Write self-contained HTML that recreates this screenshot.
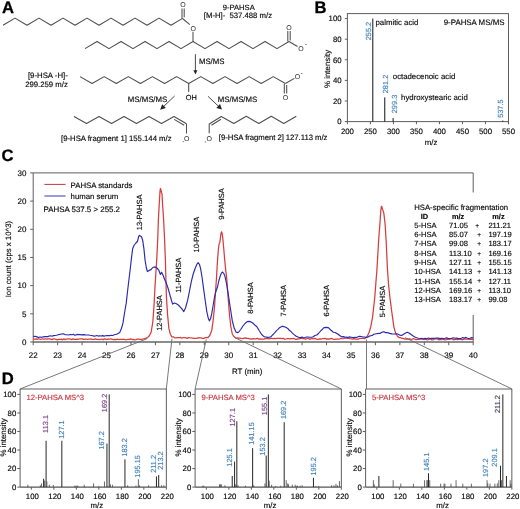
<!DOCTYPE html>
<html><head><meta charset="utf-8"><style>
html,body{margin:0;padding:0;background:#fff;}
svg{display:block;filter:blur(0.35px);}
text{font-family:'Liberation Sans', Arial, sans-serif;text-rendering:geometricPrecision;}
</style></head><body>
<svg width="520" height="509" viewBox="0 0 520 509">
<rect width="520" height="509" fill="#fff"/>
<text x="2.00" y="12.80" font-size="16.6" fill="#000" stroke="#000" stroke-width="0.3" font-weight="bold">A</text>
<polyline points="3.00,25.20 15.00,18.10 27.00,25.20 39.00,18.10 51.00,25.20 63.00,18.10 75.00,25.20 87.00,18.10 99.00,25.20 111.00,18.10 123.00,25.20 135.00,18.10 147.00,25.20 159.00,18.10 171.00,25.20 182.50,18.40" fill="none" stroke="#4d4d4d" stroke-width="1.05" stroke-linejoin="round" />
<line x1="182.00" y1="18.40" x2="182.00" y2="8.40" stroke="#4d4d4d" stroke-width="1.05"/>
<line x1="184.20" y1="17.20" x2="184.20" y2="8.40" stroke="#4d4d4d" stroke-width="1.05"/>
<text x="183.10" y="6.70" font-size="7.0" text-anchor="middle" fill="#333">O</text>
<line x1="182.50" y1="18.50" x2="189.80" y2="24.60" stroke="#4d4d4d" stroke-width="1.05"/>
<text x="193.20" y="30.80" font-size="7.0" text-anchor="middle" fill="#333">O</text>
<line x1="193.00" y1="31.80" x2="193.00" y2="41.50" stroke="#4d4d4d" stroke-width="1.05"/>
<polyline points="85.00,48.60 97.00,41.50 109.00,48.60 121.00,41.50 133.00,48.60 145.00,41.50 157.00,48.60 169.00,41.50 181.00,48.60 193.00,41.50 205.00,48.60 217.00,41.50 229.00,48.60 241.00,41.50 253.00,48.60 265.00,41.50 277.00,48.60 289.00,41.50" fill="none" stroke="#4d4d4d" stroke-width="1.05" stroke-linejoin="round" />
<line x1="287.80" y1="41.50" x2="287.80" y2="31.00" stroke="#4d4d4d" stroke-width="1.05"/>
<line x1="290.20" y1="40.50" x2="290.20" y2="31.00" stroke="#4d4d4d" stroke-width="1.05"/>
<text x="289.00" y="30.20" font-size="7.0" text-anchor="middle" fill="#333">O</text>
<line x1="289.00" y1="41.50" x2="297.50" y2="46.50" stroke="#4d4d4d" stroke-width="1.05"/>
<text x="301.00" y="51.20" font-size="7.0" text-anchor="middle" fill="#333">O</text>
<text x="306.00" y="46.00" font-size="5.5" text-anchor="middle" fill="#333" stroke="#333" stroke-width="0.15">-</text>
<line x1="195.40" y1="54.20" x2="195.40" y2="71.00" stroke="#333" stroke-width="0.9"/>
<polygon points="193.4,70.2 197.4,70.2 195.4,74.4" fill="#222"/>
<text x="198.90" y="64.20" font-size="7.8" stroke="#1a1a1a" stroke-width="0.15">MS/MS</text>
<text x="222.80" y="9.60" font-size="7.6" stroke="#1a1a1a" stroke-width="0.15">9-PAHSA</text>
<text x="203.80" y="18.40" font-size="7.75" textLength="68.2" lengthAdjust="spacing" xml:space="preserve" stroke="#1a1a1a" stroke-width="0.15">[M-H]-  537.488 m/z</text>
<polyline points="80.00,76.60 92.08,83.50 104.16,76.60 116.24,83.50 128.32,76.60 140.40,83.50 152.48,76.60 164.56,83.50 176.64,76.60 188.72,83.50 200.80,76.60 212.88,83.50 224.96,76.60 237.04,83.50 249.12,76.60 261.20,83.50 273.28,76.60 285.36,83.50" fill="none" stroke="#4d4d4d" stroke-width="1.05" stroke-linejoin="round" />
<line x1="284.30" y1="84.00" x2="284.30" y2="93.60" stroke="#4d4d4d" stroke-width="1.05"/>
<line x1="286.70" y1="85.00" x2="286.70" y2="93.60" stroke="#4d4d4d" stroke-width="1.05"/>
<text x="285.60" y="99.90" font-size="7.0" text-anchor="middle" fill="#333">O</text>
<line x1="285.40" y1="83.50" x2="294.40" y2="78.40" stroke="#4d4d4d" stroke-width="1.05"/>
<text x="297.50" y="79.20" font-size="7.0" text-anchor="middle" fill="#333">O</text>
<text x="301.70" y="75.00" font-size="5.5" text-anchor="middle" fill="#333" stroke="#333" stroke-width="0.15">-</text>
<line x1="188.70" y1="83.50" x2="188.70" y2="92.00" stroke="#4d4d4d" stroke-width="1.05"/>
<text x="185.80" y="99.50" font-size="7.4" stroke="#1a1a1a" stroke-width="0.15">OH</text>
<text x="67.80" y="77.50" font-size="7.8" text-anchor="end" stroke="#1a1a1a" stroke-width="0.15">[9-HSA -H]-</text>
<text x="67.80" y="86.90" font-size="7.75" text-anchor="end" stroke="#1a1a1a" stroke-width="0.15">299.259 m/z</text>
<line x1="174.60" y1="96.00" x2="163.67" y2="106.48" stroke="#333" stroke-width="0.9"/>
<polygon points="160.20,109.80 162.16,104.18 165.89,108.08" fill="#222"/>
<line x1="208.00" y1="96.30" x2="218.52" y2="106.29" stroke="#333" stroke-width="0.9"/>
<polygon points="222.00,109.60 216.30,107.91 220.02,103.99" fill="#222"/>
<text x="127.80" y="101.90" font-size="7.8" stroke="#1a1a1a" stroke-width="0.15">MS/MS/MS</text>
<text x="217.80" y="102.10" font-size="7.8" stroke="#1a1a1a" stroke-width="0.15">MS/MS/MS</text>
<polyline points="74.00,116.50 86.50,123.50 99.00,116.50 111.50,123.50 124.00,116.50 136.50,123.50 149.00,116.50 161.50,123.50 174.00,116.50 186.50,123.80" fill="none" stroke="#4d4d4d" stroke-width="1.05" stroke-linejoin="round" />
<line x1="174.20" y1="119.40" x2="184.20" y2="125.20" stroke="#4d4d4d" stroke-width="1.05"/>
<line x1="186.50" y1="123.80" x2="186.50" y2="133.50" stroke="#4d4d4d" stroke-width="1.05"/>
<text x="186.70" y="141.10" font-size="7.0" text-anchor="middle" fill="#333">O</text>
<circle cx="183.2" cy="141.6" r="0.55" fill="#555"/>
<text x="61.00" y="141.10" font-size="7.75" textLength="110.6" lengthAdjust="spacing" stroke="#1a1a1a" stroke-width="0.15">[9-HSA fragment 1] 155.144 m/z</text>
<polyline points="209.20,133.20 209.20,124.00 221.30,116.50 233.80,123.50 246.30,116.30 258.80,123.50 271.30,116.30 283.80,123.50 296.30,116.30" fill="none" stroke="#4d4d4d" stroke-width="1.05" stroke-linejoin="round" />
<line x1="211.40" y1="125.20" x2="221.00" y2="119.20" stroke="#4d4d4d" stroke-width="1.05"/>
<text x="209.30" y="140.90" font-size="7.0" text-anchor="middle" fill="#333">O</text>
<circle cx="205.3" cy="141.9" r="0.55" fill="#555"/>
<text x="218.80" y="140.30" font-size="7.75" textLength="108.6" lengthAdjust="spacing" stroke="#1a1a1a" stroke-width="0.15">[9-HSA fragment 2] 127.113 m/z</text>
<text x="314.40" y="12.80" font-size="16.6" fill="#000" stroke="#000" stroke-width="0.3" font-weight="bold">B</text>
<rect x="347.4" y="13.6" width="161.10" height="108.00" fill="none" stroke="#5e5e5e" stroke-width="1"/>
<line x1="344.80" y1="121.60" x2="347.40" y2="121.60" stroke="#5e5e5e" stroke-width="1"/>
<text x="341.60" y="124.30" font-size="7.8" text-anchor="end" stroke="#1a1a1a" stroke-width="0.15">0</text>
<line x1="344.80" y1="101.00" x2="347.40" y2="101.00" stroke="#5e5e5e" stroke-width="1"/>
<text x="341.60" y="103.70" font-size="7.8" text-anchor="end" stroke="#1a1a1a" stroke-width="0.15">20</text>
<line x1="344.80" y1="80.40" x2="347.40" y2="80.40" stroke="#5e5e5e" stroke-width="1"/>
<text x="341.60" y="83.10" font-size="7.8" text-anchor="end" stroke="#1a1a1a" stroke-width="0.15">40</text>
<line x1="344.80" y1="59.80" x2="347.40" y2="59.80" stroke="#5e5e5e" stroke-width="1"/>
<text x="341.60" y="62.50" font-size="7.8" text-anchor="end" stroke="#1a1a1a" stroke-width="0.15">60</text>
<line x1="344.80" y1="39.20" x2="347.40" y2="39.20" stroke="#5e5e5e" stroke-width="1"/>
<text x="341.60" y="41.90" font-size="7.8" text-anchor="end" stroke="#1a1a1a" stroke-width="0.15">80</text>
<line x1="344.80" y1="18.60" x2="347.40" y2="18.60" stroke="#5e5e5e" stroke-width="1"/>
<text x="341.60" y="21.30" font-size="7.8" text-anchor="end" stroke="#1a1a1a" stroke-width="0.15">100</text>
<line x1="347.40" y1="121.60" x2="347.40" y2="124.20" stroke="#5e5e5e" stroke-width="1"/>
<text x="347.40" y="133.90" font-size="7.8" text-anchor="middle" stroke="#1a1a1a" stroke-width="0.15">200</text>
<line x1="370.41" y1="121.60" x2="370.41" y2="124.20" stroke="#5e5e5e" stroke-width="1"/>
<text x="370.41" y="133.90" font-size="7.8" text-anchor="middle" stroke="#1a1a1a" stroke-width="0.15">250</text>
<line x1="393.43" y1="121.60" x2="393.43" y2="124.20" stroke="#5e5e5e" stroke-width="1"/>
<text x="393.43" y="133.90" font-size="7.8" text-anchor="middle" stroke="#1a1a1a" stroke-width="0.15">300</text>
<line x1="416.44" y1="121.60" x2="416.44" y2="124.20" stroke="#5e5e5e" stroke-width="1"/>
<text x="416.44" y="133.90" font-size="7.8" text-anchor="middle" stroke="#1a1a1a" stroke-width="0.15">350</text>
<line x1="439.46" y1="121.60" x2="439.46" y2="124.20" stroke="#5e5e5e" stroke-width="1"/>
<text x="439.46" y="133.90" font-size="7.8" text-anchor="middle" stroke="#1a1a1a" stroke-width="0.15">400</text>
<line x1="462.47" y1="121.60" x2="462.47" y2="124.20" stroke="#5e5e5e" stroke-width="1"/>
<text x="462.47" y="133.90" font-size="7.8" text-anchor="middle" stroke="#1a1a1a" stroke-width="0.15">450</text>
<line x1="485.49" y1="121.60" x2="485.49" y2="124.20" stroke="#5e5e5e" stroke-width="1"/>
<text x="485.49" y="133.90" font-size="7.8" text-anchor="middle" stroke="#1a1a1a" stroke-width="0.15">500</text>
<line x1="508.50" y1="121.60" x2="508.50" y2="124.20" stroke="#5e5e5e" stroke-width="1"/>
<text x="508.50" y="133.90" font-size="7.8" text-anchor="middle" stroke="#1a1a1a" stroke-width="0.15">550</text>
<text x="431.00" y="144.70" font-size="7.8" text-anchor="middle" stroke="#1a1a1a" stroke-width="0.15">m/z</text>
<text x="330.20" y="68.90" font-size="7.9" text-anchor="middle" stroke="#1a1a1a" stroke-width="0.15" transform="rotate(-90 330.20 68.90)">% intensity</text>
<line x1="372.81" y1="121.60" x2="372.81" y2="18.60" stroke="#111" stroke-width="1"/>
<line x1="384.78" y1="121.60" x2="384.78" y2="97.39" stroke="#111" stroke-width="1"/>
<line x1="393.11" y1="121.60" x2="393.11" y2="118.10" stroke="#111" stroke-width="1"/>
<line x1="502.75" y1="121.60" x2="502.75" y2="120.57" stroke="#111" stroke-width="1"/>
<text x="370.90" y="31.00" font-size="7.4" text-anchor="middle" fill="#4585bd" stroke="#4585bd" stroke-width="0.15" transform="rotate(-90 370.90 31.00)">255.2</text>
<text x="388.30" y="84.00" font-size="7.4" text-anchor="middle" fill="#4585bd" stroke="#4585bd" stroke-width="0.15" transform="rotate(-90 388.30 84.00)">281.2</text>
<text x="397.00" y="104.00" font-size="7.4" text-anchor="middle" fill="#4585bd" stroke="#4585bd" stroke-width="0.15" transform="rotate(-90 397.00 104.00)">299.3</text>
<text x="503.30" y="108.60" font-size="7.4" text-anchor="middle" fill="#4585bd" stroke="#4585bd" stroke-width="0.15" transform="rotate(-90 503.30 108.60)">537.5</text>
<text x="375.50" y="24.90" font-size="7.8" stroke="#1a1a1a" stroke-width="0.15">palmitic acid</text>
<text x="504.50" y="24.60" font-size="7.9" text-anchor="end" stroke="#1a1a1a" stroke-width="0.15">9-PAHSA MS/MS</text>
<text x="392.80" y="78.70" font-size="7.8" stroke="#1a1a1a" stroke-width="0.15">octadecenoic acid</text>
<text x="401.10" y="99.60" font-size="7.8" stroke="#1a1a1a" stroke-width="0.15">hydroxystearic acid</text>
<text x="1.60" y="161.30" font-size="16.6" fill="#000" stroke="#000" stroke-width="0.3" font-weight="bold">C</text>
<path d="M33.2,342.0 V172.9 H473.2 V192.5 M473.2,315 V342.0" fill="none" stroke="#5e5e5e" stroke-width="1"/>
<line x1="33.2" y1="342.0" x2="473.2" y2="342.0" stroke="#666" stroke-width="1.6"/>
<line x1="30.20" y1="342.00" x2="33.20" y2="342.00" stroke="#5e5e5e" stroke-width="1"/>
<text x="26.40" y="344.80" font-size="8.0" text-anchor="end" stroke="#1a1a1a" stroke-width="0.15">0</text>
<line x1="30.20" y1="313.82" x2="33.20" y2="313.82" stroke="#5e5e5e" stroke-width="1"/>
<text x="26.40" y="316.62" font-size="8.0" text-anchor="end" stroke="#1a1a1a" stroke-width="0.15">5</text>
<line x1="30.20" y1="285.63" x2="33.20" y2="285.63" stroke="#5e5e5e" stroke-width="1"/>
<text x="26.40" y="288.43" font-size="8.0" text-anchor="end" stroke="#1a1a1a" stroke-width="0.15">10</text>
<line x1="30.20" y1="257.45" x2="33.20" y2="257.45" stroke="#5e5e5e" stroke-width="1"/>
<text x="26.40" y="260.25" font-size="8.0" text-anchor="end" stroke="#1a1a1a" stroke-width="0.15">15</text>
<line x1="30.20" y1="229.27" x2="33.20" y2="229.27" stroke="#5e5e5e" stroke-width="1"/>
<text x="26.40" y="232.07" font-size="8.0" text-anchor="end" stroke="#1a1a1a" stroke-width="0.15">20</text>
<line x1="30.20" y1="201.08" x2="33.20" y2="201.08" stroke="#5e5e5e" stroke-width="1"/>
<text x="26.40" y="203.88" font-size="8.0" text-anchor="end" stroke="#1a1a1a" stroke-width="0.15">20</text>
<line x1="30.20" y1="172.90" x2="33.20" y2="172.90" stroke="#5e5e5e" stroke-width="1"/>
<text x="26.40" y="175.70" font-size="8.0" text-anchor="end" stroke="#1a1a1a" stroke-width="0.15">30</text>
<line x1="33.20" y1="342.00" x2="33.20" y2="345.20" stroke="#5e5e5e" stroke-width="1"/>
<text x="33.20" y="358.30" font-size="8.0" text-anchor="middle" stroke="#1a1a1a" stroke-width="0.15">22</text>
<line x1="57.64" y1="342.00" x2="57.64" y2="345.20" stroke="#5e5e5e" stroke-width="1"/>
<text x="57.64" y="358.30" font-size="8.0" text-anchor="middle" stroke="#1a1a1a" stroke-width="0.15">23</text>
<line x1="82.09" y1="342.00" x2="82.09" y2="345.20" stroke="#5e5e5e" stroke-width="1"/>
<text x="82.09" y="358.30" font-size="8.0" text-anchor="middle" stroke="#1a1a1a" stroke-width="0.15">24</text>
<line x1="106.53" y1="342.00" x2="106.53" y2="345.20" stroke="#5e5e5e" stroke-width="1"/>
<text x="106.53" y="358.30" font-size="8.0" text-anchor="middle" stroke="#1a1a1a" stroke-width="0.15">25</text>
<line x1="130.98" y1="342.00" x2="130.98" y2="345.20" stroke="#5e5e5e" stroke-width="1"/>
<text x="130.98" y="358.30" font-size="8.0" text-anchor="middle" stroke="#1a1a1a" stroke-width="0.15">26</text>
<line x1="155.42" y1="342.00" x2="155.42" y2="345.20" stroke="#5e5e5e" stroke-width="1"/>
<text x="155.42" y="358.30" font-size="8.0" text-anchor="middle" stroke="#1a1a1a" stroke-width="0.15">27</text>
<line x1="179.87" y1="342.00" x2="179.87" y2="345.20" stroke="#5e5e5e" stroke-width="1"/>
<text x="179.87" y="358.30" font-size="8.0" text-anchor="middle" stroke="#1a1a1a" stroke-width="0.15">28</text>
<line x1="204.31" y1="342.00" x2="204.31" y2="345.20" stroke="#5e5e5e" stroke-width="1"/>
<text x="204.31" y="358.30" font-size="8.0" text-anchor="middle" stroke="#1a1a1a" stroke-width="0.15">29</text>
<line x1="228.76" y1="342.00" x2="228.76" y2="345.20" stroke="#5e5e5e" stroke-width="1"/>
<text x="228.76" y="358.30" font-size="8.0" text-anchor="middle" stroke="#1a1a1a" stroke-width="0.15">30</text>
<line x1="253.20" y1="342.00" x2="253.20" y2="345.20" stroke="#5e5e5e" stroke-width="1"/>
<text x="253.20" y="358.30" font-size="8.0" text-anchor="middle" stroke="#1a1a1a" stroke-width="0.15">31</text>
<line x1="277.64" y1="342.00" x2="277.64" y2="345.20" stroke="#5e5e5e" stroke-width="1"/>
<text x="277.64" y="358.30" font-size="8.0" text-anchor="middle" stroke="#1a1a1a" stroke-width="0.15">32</text>
<line x1="302.09" y1="342.00" x2="302.09" y2="345.20" stroke="#5e5e5e" stroke-width="1"/>
<text x="302.09" y="358.30" font-size="8.0" text-anchor="middle" stroke="#1a1a1a" stroke-width="0.15">33</text>
<line x1="326.53" y1="342.00" x2="326.53" y2="345.20" stroke="#5e5e5e" stroke-width="1"/>
<text x="326.53" y="358.30" font-size="8.0" text-anchor="middle" stroke="#1a1a1a" stroke-width="0.15">34</text>
<line x1="350.98" y1="342.00" x2="350.98" y2="345.20" stroke="#5e5e5e" stroke-width="1"/>
<text x="350.98" y="358.30" font-size="8.0" text-anchor="middle" stroke="#1a1a1a" stroke-width="0.15">35</text>
<line x1="375.42" y1="342.00" x2="375.42" y2="345.20" stroke="#5e5e5e" stroke-width="1"/>
<text x="375.42" y="358.30" font-size="8.0" text-anchor="middle" stroke="#1a1a1a" stroke-width="0.15">36</text>
<line x1="399.87" y1="342.00" x2="399.87" y2="345.20" stroke="#5e5e5e" stroke-width="1"/>
<text x="399.87" y="358.30" font-size="8.0" text-anchor="middle" stroke="#1a1a1a" stroke-width="0.15">37</text>
<line x1="424.31" y1="342.00" x2="424.31" y2="345.20" stroke="#5e5e5e" stroke-width="1"/>
<text x="424.31" y="358.30" font-size="8.0" text-anchor="middle" stroke="#1a1a1a" stroke-width="0.15">38</text>
<line x1="448.76" y1="342.00" x2="448.76" y2="345.20" stroke="#5e5e5e" stroke-width="1"/>
<text x="448.76" y="358.30" font-size="8.0" text-anchor="middle" stroke="#1a1a1a" stroke-width="0.15">39</text>
<line x1="473.20" y1="342.00" x2="473.20" y2="345.20" stroke="#5e5e5e" stroke-width="1"/>
<text x="473.20" y="358.30" font-size="8.0" text-anchor="middle" stroke="#1a1a1a" stroke-width="0.15">40</text>
<text x="247.20" y="373.90" font-size="7.9" text-anchor="middle" stroke="#1a1a1a" stroke-width="0.15">RT (min)</text>
<text x="11.00" y="259.10" font-size="7.8" text-anchor="middle" stroke="#1a1a1a" stroke-width="0.15" transform="rotate(-90 11.00 259.10)">Ion count (cps x 10^3)</text>
<line x1="44.40" y1="184.40" x2="65.60" y2="184.40" stroke="#c8353f" stroke-width="1"/>
<line x1="44.40" y1="196.00" x2="65.60" y2="196.00" stroke="#3a3ab8" stroke-width="1"/>
<text x="70.60" y="187.80" font-size="7.8" stroke="#1a1a1a" stroke-width="0.15">PAHSA standards</text>
<text x="70.60" y="198.90" font-size="7.8" stroke="#1a1a1a" stroke-width="0.15">human serum</text>
<text x="43.60" y="212.10" font-size="7.9" stroke="#1a1a1a" stroke-width="0.15">PAHSA 537.5 &gt; 255.2</text>
<polyline points="33.20,339.20 34.54,339.01 35.88,338.83 37.22,339.38 38.56,338.75 39.90,339.26 41.24,339.08 42.58,338.75 43.92,339.25 45.26,338.74 46.60,339.18 47.94,338.78 49.28,338.81 50.62,339.18 51.96,339.63 53.30,338.86 54.64,338.98 55.98,339.43 57.32,339.78 58.66,339.38 60.00,339.30 61.30,339.18 62.61,339.82 63.91,338.79 65.22,339.68 66.52,339.05 67.83,338.88 69.13,338.85 70.43,339.05 71.74,339.61 73.04,338.91 74.35,339.34 75.65,339.40 76.96,339.10 78.26,339.29 79.57,338.75 80.87,338.75 82.17,338.90 83.48,339.42 84.78,339.14 86.09,339.01 87.39,339.30 88.70,339.15 90.00,339.20 91.30,338.98 92.61,339.53 93.91,339.43 95.22,338.94 96.52,339.30 97.83,339.25 99.13,339.64 100.43,339.49 101.74,339.01 103.04,339.77 104.35,338.83 105.65,339.16 106.96,339.54 108.26,338.88 109.57,339.25 110.87,338.76 112.17,339.46 113.48,339.57 114.78,339.36 116.09,339.70 117.39,339.09 118.70,339.51 120.00,339.30 121.33,339.40 122.67,339.39 124.00,339.25 125.33,339.67 126.67,339.79 128.00,339.27 129.33,339.48 130.67,338.82 132.00,339.52 133.33,339.46 134.67,339.84 136.00,339.65 137.33,339.06 138.67,339.17 140.00,339.30 141.50,339.34 143.00,339.00 145.50,338.40 147.50,337.70 149.50,335.50 151.20,332.00 152.80,322.00 154.00,306.00 155.10,285.00 156.20,268.00 156.80,258.00 157.70,240.00 158.40,219.30 159.30,203.00 160.00,191.50 160.40,188.50 160.90,189.80 161.50,192.50 162.00,193.80 162.60,205.00 163.60,219.30 164.60,240.00 165.40,260.00 165.90,280.00 166.40,296.60 167.60,315.00 168.90,328.40 170.30,334.00 171.70,336.80 173.35,336.82 175.00,337.90 176.36,337.87 177.73,337.55 179.09,337.51 180.45,337.45 181.82,338.24 183.18,337.55 184.55,337.69 185.91,337.85 187.27,338.39 188.64,337.53 190.00,338.00 191.36,337.94 192.73,338.04 194.09,338.39 195.45,338.31 196.82,338.35 198.18,337.70 199.55,337.84 200.91,337.77 202.27,338.34 203.64,338.41 205.00,337.90 206.50,337.42 208.00,337.70 209.80,335.50 211.80,330.20 213.20,320.00 214.60,306.00 215.50,292.00 216.50,278.00 217.40,262.00 218.30,250.00 219.10,244.00 219.80,242.40 220.40,238.00 221.00,233.50 221.50,231.80 222.10,233.20 222.80,238.00 223.70,248.00 224.70,260.00 225.70,270.00 226.70,278.00 228.10,297.00 229.50,315.30 230.90,327.00 232.30,334.00 234.00,336.60 236.00,338.30 237.33,337.97 238.67,338.06 240.00,338.09 241.33,338.39 242.67,338.54 244.00,338.21 245.33,337.95 246.67,338.43 248.00,338.41 249.33,338.65 250.67,339.10 252.00,338.84 253.33,338.68 254.67,338.82 256.00,338.91 257.33,338.25 258.67,339.21 260.00,338.80 261.30,339.11 262.61,339.22 263.91,339.14 265.22,338.70 266.52,338.71 267.83,338.39 269.13,338.98 270.43,338.35 271.74,338.36 273.04,338.52 274.35,338.48 275.65,338.68 276.96,338.36 278.26,338.31 279.57,338.48 280.87,338.43 282.17,338.72 283.48,338.36 284.78,339.29 286.09,339.01 287.39,338.50 288.70,338.62 290.00,338.90 291.30,338.73 292.61,338.74 293.91,338.47 295.22,339.27 296.52,339.42 297.83,338.84 299.13,338.85 300.43,338.41 301.74,338.42 303.04,338.68 304.35,338.59 305.65,339.21 306.96,338.47 308.26,338.31 309.57,339.33 310.87,338.86 312.17,338.44 313.48,338.87 314.78,338.30 316.09,338.84 317.39,339.34 318.70,339.20 320.00,338.80 321.30,339.01 322.61,338.53 323.91,338.64 325.22,338.42 326.52,339.08 327.83,338.81 329.13,339.08 330.43,338.58 331.74,338.46 333.04,339.10 334.35,339.29 335.65,339.14 336.96,339.08 338.26,339.09 339.57,339.00 340.87,338.43 342.17,338.75 343.48,338.56 344.78,338.20 346.09,338.19 347.39,338.47 348.70,338.44 350.00,338.70 351.36,338.90 352.73,339.18 354.09,338.61 355.45,339.14 356.82,339.19 358.18,339.15 359.55,338.49 360.91,338.32 362.27,338.32 363.64,338.28 365.00,338.60 367.20,336.50 369.20,332.00 370.80,326.60 372.60,316.90 374.70,298.30 375.80,284.00 376.90,270.00 377.80,255.00 378.80,238.00 379.90,224.00 380.70,212.00 381.30,207.00 381.70,206.20 382.30,208.50 383.00,210.60 383.80,213.00 385.10,224.00 386.20,242.00 387.50,270.00 388.50,284.00 390.00,298.30 391.80,312.00 393.80,326.60 395.50,332.80 397.40,336.30 399.00,337.60 400.33,337.54 401.67,338.27 403.00,338.40 404.95,339.04 406.90,338.80 408.21,339.21 409.52,338.86 410.83,339.09 412.14,339.29 413.45,338.54 414.76,339.22 416.07,339.53 417.38,339.43 418.69,339.44 420.00,339.20 421.33,339.19 422.67,338.87 424.00,339.56 425.33,339.07 426.67,339.60 428.00,339.80 429.33,339.18 430.67,339.20 432.00,339.81 433.33,339.58 434.67,338.98 436.00,338.95 437.33,338.99 438.67,339.83 440.00,339.40 441.33,339.72 442.67,338.98 444.00,339.72 445.33,339.88 446.67,339.51 448.00,339.16 449.33,339.36 450.67,338.89 452.00,338.75 453.33,339.78 454.67,339.42 456.00,339.27 457.33,339.70 458.67,339.14 460.00,339.20 461.32,339.63 462.64,339.60 463.96,338.94 465.28,339.01 466.60,339.07 467.92,339.03 469.24,339.44 470.56,339.10 471.88,339.29 473.20,339.40" fill="none" stroke="#d63c3c" stroke-width="1.25" stroke-linejoin="round" />
<polyline points="33.20,336.50 35.10,336.29 37.00,336.90 38.50,337.48 40.00,337.01 41.50,337.30 43.25,336.90 45.00,336.60 46.40,336.49 47.80,336.64 49.20,336.00 50.65,335.79 52.10,336.21 53.55,335.63 55.00,335.50 56.50,335.19 58.00,334.80 59.85,334.43 61.70,334.00 63.35,333.77 65.00,334.60 66.75,334.73 68.50,335.00 70.25,334.55 72.00,334.80 73.33,334.29 74.67,335.20 76.00,334.90 77.33,334.44 78.67,334.67 80.00,334.60 81.90,334.85 83.80,334.60 85.40,334.86 87.00,335.00 88.50,334.96 90.00,335.30 91.35,335.50 92.70,335.71 94.05,336.14 95.40,336.00 96.80,335.57 98.20,336.07 99.60,335.72 101.00,336.00 102.50,335.65 104.00,336.10 105.50,335.71 107.00,335.60 108.33,335.57 109.67,335.69 111.00,335.30 112.65,335.50 114.30,334.80 116.50,334.30 118.00,333.50 119.70,332.60 121.20,329.00 122.20,326.00 123.00,322.90 124.20,315.00 125.20,309.00 126.20,303.40 127.30,293.50 128.40,284.00 129.50,275.00 130.50,266.70 131.60,257.00 132.70,248.40 134.00,245.50 135.90,243.00 137.40,241.50 138.60,236.80 139.40,235.40 141.50,236.80 142.70,240.30 143.90,248.60 145.10,260.40 146.30,267.50 147.40,271.60 149.20,270.40 151.00,269.60 152.70,267.50 155.10,266.90 156.90,268.00 158.60,269.80 160.40,274.50 161.60,272.20 163.30,275.70 164.50,279.20 166.10,282.50 168.00,288.00 169.90,294.80 171.50,300.50 172.60,304.10 174.50,303.00 176.40,303.70 178.30,305.00 180.10,306.90 182.00,309.00 183.80,311.60 185.50,308.00 187.60,300.40 189.50,291.00 191.30,281.70 193.20,274.00 195.00,268.70 196.80,264.50 198.20,262.70 199.50,264.50 200.60,268.70 202.00,277.00 203.40,287.30 205.00,299.00 206.80,311.60 208.20,318.00 209.40,320.90 210.60,318.50 211.80,313.40 213.20,305.00 214.60,296.60 216.00,291.00 217.40,287.30 218.80,281.00 220.20,276.10 221.40,273.20 222.60,272.00 223.80,273.50 224.90,276.10 226.80,285.00 228.60,296.60 230.50,309.00 232.30,320.90 234.20,328.00 236.00,332.00 237.40,332.60 238.80,332.00 240.70,329.50 242.60,326.50 245.00,323.50 247.20,321.60 249.00,321.40 251.00,321.90 252.80,323.00 254.70,324.80 256.90,326.80 259.40,331.00 261.70,334.50 264.00,336.60 265.75,336.94 267.50,337.40 269.15,337.27 270.80,336.90 272.20,335.46 273.60,334.00 275.05,332.31 276.50,330.60 277.95,329.41 279.40,327.80 280.85,326.95 282.30,326.20 283.75,326.64 285.20,327.00 286.60,327.83 288.00,328.70 289.50,330.59 291.00,331.50 292.40,333.17 293.80,334.40 296.20,336.20 298.70,337.30 300.35,337.61 302.00,337.10 303.50,337.79 305.00,337.50 306.50,336.99 308.00,337.00 309.60,337.22 311.20,337.30 312.70,337.00 315.00,335.50 316.75,334.99 318.50,333.50 321.00,330.50 322.30,329.52 323.60,327.80 326.00,327.40 328.30,327.60 330.80,330.00 333.40,332.30 335.15,332.55 336.90,333.60 338.20,334.13 339.50,335.50 340.80,336.14 342.10,336.90 343.55,336.63 345.00,337.30 346.50,337.11 348.00,337.50 349.50,336.88 351.00,337.20 352.33,337.42 353.67,337.58 355.00,337.30 356.50,337.49 358.00,336.80 359.65,336.27 361.30,336.50 362.85,336.99 364.40,337.00 366.00,337.33 367.60,337.30 369.20,336.16 370.80,335.80 372.35,335.42 373.90,334.20 376.20,333.80 378.60,333.40 380.00,333.51 381.40,332.60 382.75,331.89 384.10,331.80 385.45,332.65 386.80,332.50 388.20,332.84 389.60,333.40 392.00,333.90 394.30,334.00 396.50,333.80 398.20,334.30 400.00,335.20 401.50,335.40 403.20,334.40 405.20,333.20 407.30,332.30 409.00,333.00 410.80,334.30 412.80,335.80 414.80,337.00 416.80,337.70 418.50,338.20 420.70,338.50 422.13,338.42 423.57,338.91 425.00,338.30 426.67,338.73 428.33,338.06 430.00,338.50 431.67,338.32 433.33,338.32 435.00,338.20 436.67,338.16 438.33,338.13 440.00,338.60 441.67,338.30 443.33,338.64 445.00,338.30 446.67,337.84 448.33,338.49 450.00,338.50 451.67,338.33 453.33,337.77 455.00,338.20 456.67,338.15 458.33,338.60 460.00,338.60 461.38,338.31 462.75,337.52 464.12,338.23 465.50,337.40 467.00,337.98 468.50,338.45 470.00,338.20 471.60,337.67 473.20,338.00" fill="none" stroke="#2828b0" stroke-width="1.15" stroke-linejoin="round" />
<text x="142.00" y="212.40" font-size="7.5" text-anchor="middle" stroke="#1a1a1a" stroke-width="0.15" transform="rotate(-90 142.00 212.40)">13-PAHSA</text>
<text x="162.30" y="313.00" font-size="7.5" text-anchor="middle" stroke="#1a1a1a" stroke-width="0.15" transform="rotate(-90 162.30 313.00)">12-PAHSA</text>
<text x="180.70" y="275.20" font-size="7.5" text-anchor="middle" stroke="#1a1a1a" stroke-width="0.15" transform="rotate(-90 180.70 275.20)">11-PAHSA</text>
<text x="199.20" y="234.60" font-size="7.5" text-anchor="middle" stroke="#1a1a1a" stroke-width="0.15" transform="rotate(-90 199.20 234.60)">10-PAHSA</text>
<text x="224.00" y="204.00" font-size="7.5" text-anchor="middle" stroke="#1a1a1a" stroke-width="0.15" transform="rotate(-90 224.00 204.00)">9-PAHSA</text>
<text x="252.50" y="298.00" font-size="7.5" text-anchor="middle" stroke="#1a1a1a" stroke-width="0.15" transform="rotate(-90 252.50 298.00)">8-PAHSA</text>
<text x="286.30" y="300.70" font-size="7.5" text-anchor="middle" stroke="#1a1a1a" stroke-width="0.15" transform="rotate(-90 286.30 300.70)">7-PAHSA</text>
<text x="329.40" y="300.70" font-size="7.5" text-anchor="middle" stroke="#1a1a1a" stroke-width="0.15" transform="rotate(-90 329.40 300.70)">6-PAHSA</text>
<text x="384.70" y="301.50" font-size="7.5" text-anchor="middle" stroke="#1a1a1a" stroke-width="0.15" transform="rotate(-90 384.70 301.50)">5-PAHSA</text>
<rect x="412" y="196" width="106" height="112" fill="#fff"/>
<text x="414.20" y="210.20" font-size="7.75" stroke="#1a1a1a" stroke-width="0.15">HSA-specific fragmentation</text>
<text x="420.80" y="218.90" font-size="7.4" stroke="#1a1a1a" stroke-width="0.15" font-weight="bold">ID</text>
<text x="452.00" y="218.90" font-size="7.4" stroke="#1a1a1a" stroke-width="0.15" font-weight="bold">m/z</text>
<text x="492.30" y="218.90" font-size="7.4" stroke="#1a1a1a" stroke-width="0.15" font-weight="bold">m/z</text>
<text x="414.30" y="227.90" font-size="7.6" stroke="#1a1a1a" stroke-width="0.15">5-HSA</text>
<text x="449.00" y="227.90" font-size="7.6" stroke="#1a1a1a" stroke-width="0.15">71.05</text>
<text x="477.20" y="227.70" font-size="6.6" text-anchor="middle" stroke="#1a1a1a" stroke-width="0.15">+</text>
<text x="488.40" y="227.90" font-size="7.6" stroke="#1a1a1a" stroke-width="0.15">211.21</text>
<text x="414.30" y="237.18" font-size="7.6" stroke="#1a1a1a" stroke-width="0.15">6-HSA</text>
<text x="449.00" y="237.18" font-size="7.6" stroke="#1a1a1a" stroke-width="0.15">85.07</text>
<text x="479.30" y="236.98" font-size="6.6" text-anchor="middle" stroke="#1a1a1a" stroke-width="0.15">+</text>
<text x="488.40" y="237.18" font-size="7.6" stroke="#1a1a1a" stroke-width="0.15">197.19</text>
<text x="414.30" y="246.46" font-size="7.6" stroke="#1a1a1a" stroke-width="0.15">7-HSA</text>
<text x="449.00" y="246.46" font-size="7.6" stroke="#1a1a1a" stroke-width="0.15">99.08</text>
<text x="479.30" y="246.26" font-size="6.6" text-anchor="middle" stroke="#1a1a1a" stroke-width="0.15">+</text>
<text x="488.40" y="246.46" font-size="7.6" stroke="#1a1a1a" stroke-width="0.15">183.17</text>
<text x="414.30" y="255.74" font-size="7.6" stroke="#1a1a1a" stroke-width="0.15">8-HSA</text>
<text x="449.00" y="255.74" font-size="7.6" stroke="#1a1a1a" stroke-width="0.15">113.10</text>
<text x="479.30" y="255.54" font-size="6.6" text-anchor="middle" stroke="#1a1a1a" stroke-width="0.15">+</text>
<text x="488.40" y="255.74" font-size="7.6" stroke="#1a1a1a" stroke-width="0.15">169.16</text>
<text x="414.30" y="265.02" font-size="7.6" stroke="#1a1a1a" stroke-width="0.15">9-HSA</text>
<text x="449.00" y="265.02" font-size="7.6" stroke="#1a1a1a" stroke-width="0.15">127.11</text>
<text x="479.30" y="264.82" font-size="6.6" text-anchor="middle" stroke="#1a1a1a" stroke-width="0.15">+</text>
<text x="488.40" y="265.02" font-size="7.6" stroke="#1a1a1a" stroke-width="0.15">155.15</text>
<text x="414.30" y="274.30" font-size="7.6" stroke="#1a1a1a" stroke-width="0.15">10-HSA</text>
<text x="449.00" y="274.30" font-size="7.6" stroke="#1a1a1a" stroke-width="0.15">141.13</text>
<text x="479.30" y="274.10" font-size="6.6" text-anchor="middle" stroke="#1a1a1a" stroke-width="0.15">+</text>
<text x="488.40" y="274.30" font-size="7.6" stroke="#1a1a1a" stroke-width="0.15">141.13</text>
<text x="414.30" y="283.58" font-size="7.6" stroke="#1a1a1a" stroke-width="0.15">11-HSA</text>
<text x="449.00" y="283.58" font-size="7.6" stroke="#1a1a1a" stroke-width="0.15">155.14</text>
<text x="479.30" y="283.38" font-size="6.6" text-anchor="middle" stroke="#1a1a1a" stroke-width="0.15">+</text>
<text x="488.40" y="283.58" font-size="7.6" stroke="#1a1a1a" stroke-width="0.15">127.11</text>
<text x="414.30" y="292.86" font-size="7.6" stroke="#1a1a1a" stroke-width="0.15">12-HSA</text>
<text x="449.00" y="292.86" font-size="7.6" stroke="#1a1a1a" stroke-width="0.15">169.16</text>
<text x="479.30" y="292.66" font-size="6.6" text-anchor="middle" stroke="#1a1a1a" stroke-width="0.15">+</text>
<text x="488.40" y="292.86" font-size="7.6" stroke="#1a1a1a" stroke-width="0.15">113.10</text>
<text x="414.30" y="302.14" font-size="7.6" stroke="#1a1a1a" stroke-width="0.15">13-HSA</text>
<text x="449.00" y="302.14" font-size="7.6" stroke="#1a1a1a" stroke-width="0.15">183.17</text>
<text x="479.30" y="301.94" font-size="6.6" text-anchor="middle" stroke="#1a1a1a" stroke-width="0.15">+</text>
<text x="488.40" y="302.14" font-size="7.6" stroke="#1a1a1a" stroke-width="0.15">99.08</text>
<line x1="147.00" y1="338.70" x2="20.00" y2="389.00" stroke="#6a6a6a" stroke-width="0.9"/>
<line x1="172.00" y1="338.60" x2="166.30" y2="389.00" stroke="#6a6a6a" stroke-width="0.9"/>
<line x1="206.30" y1="339.40" x2="195.10" y2="389.00" stroke="#6a6a6a" stroke-width="0.9"/>
<line x1="235.20" y1="337.80" x2="341.40" y2="389.00" stroke="#6a6a6a" stroke-width="0.9"/>
<line x1="366.50" y1="339.50" x2="366.50" y2="389.00" stroke="#6a6a6a" stroke-width="0.9"/>
<line x1="405.00" y1="337.60" x2="512.00" y2="389.00" stroke="#6a6a6a" stroke-width="0.9"/>
<text x="1.80" y="383.60" font-size="16.6" fill="#000" stroke="#000" stroke-width="0.3" font-weight="bold">D</text>
<path d="M20.10,487.1 V389.0 H166.35 V487.1" fill="none" stroke="#5e5e5e" stroke-width="1"/>
<line x1="20.10" y1="487.10" x2="166.35" y2="487.10" stroke="#555" stroke-width="1.2"/>
<line x1="17.30" y1="487.10" x2="20.10" y2="487.10" stroke="#5e5e5e" stroke-width="1"/>
<text x="16.30" y="489.80" font-size="7.8" text-anchor="end" stroke="#1a1a1a" stroke-width="0.15">0</text>
<line x1="17.30" y1="468.56" x2="20.10" y2="468.56" stroke="#5e5e5e" stroke-width="1"/>
<text x="16.30" y="471.26" font-size="7.8" text-anchor="end" stroke="#1a1a1a" stroke-width="0.15">20</text>
<line x1="17.30" y1="450.02" x2="20.10" y2="450.02" stroke="#5e5e5e" stroke-width="1"/>
<text x="16.30" y="452.72" font-size="7.8" text-anchor="end" stroke="#1a1a1a" stroke-width="0.15">40</text>
<line x1="17.30" y1="431.48" x2="20.10" y2="431.48" stroke="#5e5e5e" stroke-width="1"/>
<text x="16.30" y="434.18" font-size="7.8" text-anchor="end" stroke="#1a1a1a" stroke-width="0.15">60</text>
<line x1="17.30" y1="412.94" x2="20.10" y2="412.94" stroke="#5e5e5e" stroke-width="1"/>
<text x="16.30" y="415.64" font-size="7.8" text-anchor="end" stroke="#1a1a1a" stroke-width="0.15">80</text>
<line x1="17.30" y1="394.40" x2="20.10" y2="394.40" stroke="#5e5e5e" stroke-width="1"/>
<text x="16.30" y="397.10" font-size="7.8" text-anchor="end" stroke="#1a1a1a" stroke-width="0.15">100</text>
<line x1="31.35" y1="487.10" x2="31.35" y2="489.70" stroke="#5e5e5e" stroke-width="1"/>
<text x="32.35" y="498.90" font-size="7.8" text-anchor="middle" stroke="#1a1a1a" stroke-width="0.15">100</text>
<line x1="53.85" y1="487.10" x2="53.85" y2="489.70" stroke="#5e5e5e" stroke-width="1"/>
<text x="54.85" y="498.90" font-size="7.8" text-anchor="middle" stroke="#1a1a1a" stroke-width="0.15">120</text>
<line x1="76.35" y1="487.10" x2="76.35" y2="489.70" stroke="#5e5e5e" stroke-width="1"/>
<text x="77.35" y="498.90" font-size="7.8" text-anchor="middle" stroke="#1a1a1a" stroke-width="0.15">140</text>
<line x1="98.85" y1="487.10" x2="98.85" y2="489.70" stroke="#5e5e5e" stroke-width="1"/>
<text x="99.85" y="498.90" font-size="7.8" text-anchor="middle" stroke="#1a1a1a" stroke-width="0.15">160</text>
<line x1="121.35" y1="487.10" x2="121.35" y2="489.70" stroke="#5e5e5e" stroke-width="1"/>
<text x="122.35" y="498.90" font-size="7.8" text-anchor="middle" stroke="#1a1a1a" stroke-width="0.15">180</text>
<line x1="143.85" y1="487.10" x2="143.85" y2="489.70" stroke="#5e5e5e" stroke-width="1"/>
<text x="144.85" y="498.90" font-size="7.8" text-anchor="middle" stroke="#1a1a1a" stroke-width="0.15">200</text>
<line x1="166.35" y1="487.10" x2="166.35" y2="489.70" stroke="#5e5e5e" stroke-width="1"/>
<text x="167.35" y="498.90" font-size="7.8" text-anchor="middle" stroke="#1a1a1a" stroke-width="0.15">220</text>
<text x="96.80" y="508.10" font-size="7.8" text-anchor="middle" stroke="#1a1a1a" stroke-width="0.15">m/z</text>
<text x="6.10" y="437.50" font-size="7.9" text-anchor="middle" stroke="#1a1a1a" stroke-width="0.15" transform="rotate(-90 6.10 437.50)">% intensity</text>
<text x="26.40" y="400.10" font-size="7.7" fill="#c8353f" stroke="#c8353f" stroke-width="0.15">12-PAHSA MS^3</text>
<line x1="27.86" y1="487.10" x2="27.86" y2="484.78" stroke="#444" stroke-width="0.8"/>
<line x1="40.35" y1="487.10" x2="40.35" y2="485.25" stroke="#444" stroke-width="0.8"/>
<line x1="41.48" y1="487.10" x2="41.48" y2="483.39" stroke="#444" stroke-width="0.8"/>
<line x1="43.61" y1="487.10" x2="43.61" y2="478.76" stroke="#262626" stroke-width="1.0"/>
<line x1="44.62" y1="487.10" x2="44.62" y2="480.61" stroke="#444" stroke-width="0.8"/>
<line x1="46.09" y1="487.10" x2="46.09" y2="440.75" stroke="#262626" stroke-width="1.0"/>
<line x1="46.88" y1="487.10" x2="46.88" y2="481.54" stroke="#444" stroke-width="0.8"/>
<line x1="49.35" y1="487.10" x2="49.35" y2="484.78" stroke="#444" stroke-width="0.8"/>
<line x1="53.40" y1="487.10" x2="53.40" y2="484.97" stroke="#444" stroke-width="0.8"/>
<line x1="61.84" y1="487.10" x2="61.84" y2="440.75" stroke="#262626" stroke-width="1.0"/>
<line x1="74.78" y1="487.10" x2="74.78" y2="485.71" stroke="#444" stroke-width="0.8"/>
<line x1="75.90" y1="487.10" x2="75.90" y2="485.71" stroke="#444" stroke-width="0.8"/>
<line x1="77.03" y1="487.10" x2="77.03" y2="485.71" stroke="#444" stroke-width="0.8"/>
<line x1="77.93" y1="487.10" x2="77.93" y2="485.71" stroke="#444" stroke-width="0.8"/>
<line x1="84.22" y1="487.10" x2="84.22" y2="484.78" stroke="#444" stroke-width="0.8"/>
<line x1="93.56" y1="487.10" x2="93.56" y2="483.39" stroke="#444" stroke-width="0.8"/>
<line x1="98.85" y1="487.10" x2="98.85" y2="486.17" stroke="#444" stroke-width="0.8"/>
<line x1="104.47" y1="487.10" x2="104.47" y2="481.54" stroke="#444" stroke-width="0.8"/>
<line x1="106.95" y1="487.10" x2="106.95" y2="443.53" stroke="#262626" stroke-width="1.0"/>
<line x1="109.20" y1="487.10" x2="109.20" y2="394.40" stroke="#262626" stroke-width="1.0"/>
<line x1="110.44" y1="487.10" x2="110.44" y2="484.32" stroke="#444" stroke-width="0.8"/>
<line x1="112.57" y1="487.10" x2="112.57" y2="484.78" stroke="#444" stroke-width="0.8"/>
<line x1="124.95" y1="487.10" x2="124.95" y2="459.29" stroke="#262626" stroke-width="1.0"/>
<line x1="127.65" y1="487.10" x2="127.65" y2="485.25" stroke="#444" stroke-width="0.8"/>
<line x1="135.97" y1="487.10" x2="135.97" y2="485.52" stroke="#444" stroke-width="0.8"/>
<line x1="138.39" y1="487.10" x2="138.39" y2="479.22" stroke="#444" stroke-width="0.8"/>
<line x1="139.57" y1="487.10" x2="139.57" y2="485.25" stroke="#444" stroke-width="0.8"/>
<line x1="148.57" y1="487.10" x2="148.57" y2="485.25" stroke="#444" stroke-width="0.8"/>
<line x1="156.45" y1="487.10" x2="156.45" y2="476.44" stroke="#262626" stroke-width="1.0"/>
<line x1="158.70" y1="487.10" x2="158.70" y2="475.05" stroke="#262626" stroke-width="1.0"/>
<line x1="161.51" y1="487.10" x2="161.51" y2="485.25" stroke="#444" stroke-width="0.8"/>
<line x1="163.88" y1="487.10" x2="163.88" y2="485.25" stroke="#444" stroke-width="0.8"/>
<path d="M195.10,487.1 V389.0 H341.35 V487.1" fill="none" stroke="#5e5e5e" stroke-width="1"/>
<line x1="195.10" y1="487.10" x2="341.35" y2="487.10" stroke="#555" stroke-width="1.2"/>
<line x1="192.30" y1="487.10" x2="195.10" y2="487.10" stroke="#5e5e5e" stroke-width="1"/>
<text x="191.30" y="489.80" font-size="7.8" text-anchor="end" stroke="#1a1a1a" stroke-width="0.15">0</text>
<line x1="192.30" y1="468.56" x2="195.10" y2="468.56" stroke="#5e5e5e" stroke-width="1"/>
<text x="191.30" y="471.26" font-size="7.8" text-anchor="end" stroke="#1a1a1a" stroke-width="0.15">20</text>
<line x1="192.30" y1="450.02" x2="195.10" y2="450.02" stroke="#5e5e5e" stroke-width="1"/>
<text x="191.30" y="452.72" font-size="7.8" text-anchor="end" stroke="#1a1a1a" stroke-width="0.15">40</text>
<line x1="192.30" y1="431.48" x2="195.10" y2="431.48" stroke="#5e5e5e" stroke-width="1"/>
<text x="191.30" y="434.18" font-size="7.8" text-anchor="end" stroke="#1a1a1a" stroke-width="0.15">60</text>
<line x1="192.30" y1="412.94" x2="195.10" y2="412.94" stroke="#5e5e5e" stroke-width="1"/>
<text x="191.30" y="415.64" font-size="7.8" text-anchor="end" stroke="#1a1a1a" stroke-width="0.15">80</text>
<line x1="192.30" y1="394.40" x2="195.10" y2="394.40" stroke="#5e5e5e" stroke-width="1"/>
<text x="191.30" y="397.10" font-size="7.8" text-anchor="end" stroke="#1a1a1a" stroke-width="0.15">100</text>
<line x1="206.35" y1="487.10" x2="206.35" y2="489.70" stroke="#5e5e5e" stroke-width="1"/>
<text x="207.35" y="498.90" font-size="7.8" text-anchor="middle" stroke="#1a1a1a" stroke-width="0.15">100</text>
<line x1="228.85" y1="487.10" x2="228.85" y2="489.70" stroke="#5e5e5e" stroke-width="1"/>
<text x="229.85" y="498.90" font-size="7.8" text-anchor="middle" stroke="#1a1a1a" stroke-width="0.15">120</text>
<line x1="251.35" y1="487.10" x2="251.35" y2="489.70" stroke="#5e5e5e" stroke-width="1"/>
<text x="252.35" y="498.90" font-size="7.8" text-anchor="middle" stroke="#1a1a1a" stroke-width="0.15">140</text>
<line x1="273.85" y1="487.10" x2="273.85" y2="489.70" stroke="#5e5e5e" stroke-width="1"/>
<text x="274.85" y="498.90" font-size="7.8" text-anchor="middle" stroke="#1a1a1a" stroke-width="0.15">160</text>
<line x1="296.35" y1="487.10" x2="296.35" y2="489.70" stroke="#5e5e5e" stroke-width="1"/>
<text x="297.35" y="498.90" font-size="7.8" text-anchor="middle" stroke="#1a1a1a" stroke-width="0.15">180</text>
<line x1="318.85" y1="487.10" x2="318.85" y2="489.70" stroke="#5e5e5e" stroke-width="1"/>
<text x="319.85" y="498.90" font-size="7.8" text-anchor="middle" stroke="#1a1a1a" stroke-width="0.15">200</text>
<line x1="341.35" y1="487.10" x2="341.35" y2="489.70" stroke="#5e5e5e" stroke-width="1"/>
<text x="342.35" y="498.90" font-size="7.8" text-anchor="middle" stroke="#1a1a1a" stroke-width="0.15">220</text>
<text x="270.10" y="508.10" font-size="7.8" text-anchor="middle" stroke="#1a1a1a" stroke-width="0.15">m/z</text>
<text x="181.10" y="437.50" font-size="7.9" text-anchor="middle" stroke="#1a1a1a" stroke-width="0.15" transform="rotate(-90 181.10 437.50)">% intensity</text>
<text x="201.40" y="400.10" font-size="7.7" fill="#c8353f" stroke="#c8353f" stroke-width="0.15">9-PAHSA MS^3</text>
<line x1="202.75" y1="487.10" x2="202.75" y2="485.71" stroke="#444" stroke-width="0.8"/>
<line x1="203.88" y1="487.10" x2="203.88" y2="485.71" stroke="#444" stroke-width="0.8"/>
<line x1="219.51" y1="487.10" x2="219.51" y2="484.32" stroke="#444" stroke-width="0.8"/>
<line x1="220.41" y1="487.10" x2="220.41" y2="484.32" stroke="#444" stroke-width="0.8"/>
<line x1="221.43" y1="487.10" x2="221.43" y2="484.32" stroke="#444" stroke-width="0.8"/>
<line x1="224.91" y1="487.10" x2="224.91" y2="485.25" stroke="#444" stroke-width="0.8"/>
<line x1="232.22" y1="487.10" x2="232.22" y2="475.98" stroke="#262626" stroke-width="1.0"/>
<line x1="234.59" y1="487.10" x2="234.59" y2="461.61" stroke="#262626" stroke-width="1.0"/>
<line x1="235.71" y1="487.10" x2="235.71" y2="484.32" stroke="#444" stroke-width="0.8"/>
<line x1="236.84" y1="487.10" x2="236.84" y2="421.28" stroke="#262626" stroke-width="1.0"/>
<line x1="238.07" y1="487.10" x2="238.07" y2="485.25" stroke="#444" stroke-width="0.8"/>
<line x1="245.50" y1="487.10" x2="245.50" y2="485.71" stroke="#444" stroke-width="0.8"/>
<line x1="252.64" y1="487.10" x2="252.64" y2="448.17" stroke="#262626" stroke-width="1.0"/>
<line x1="253.71" y1="487.10" x2="253.71" y2="485.25" stroke="#444" stroke-width="0.8"/>
<line x1="264.96" y1="487.10" x2="264.96" y2="483.39" stroke="#444" stroke-width="0.8"/>
<line x1="266.20" y1="487.10" x2="266.20" y2="455.58" stroke="#262626" stroke-width="1.0"/>
<line x1="268.34" y1="487.10" x2="268.34" y2="394.40" stroke="#262626" stroke-width="1.0"/>
<line x1="269.24" y1="487.10" x2="269.24" y2="480.61" stroke="#444" stroke-width="0.8"/>
<line x1="271.60" y1="487.10" x2="271.60" y2="484.78" stroke="#444" stroke-width="0.8"/>
<line x1="275.54" y1="487.10" x2="275.54" y2="486.17" stroke="#444" stroke-width="0.8"/>
<line x1="280.71" y1="487.10" x2="280.71" y2="485.71" stroke="#444" stroke-width="0.8"/>
<line x1="284.20" y1="487.10" x2="284.20" y2="422.21" stroke="#262626" stroke-width="1.0"/>
<line x1="286.23" y1="487.10" x2="286.23" y2="480.15" stroke="#444" stroke-width="0.8"/>
<line x1="287.69" y1="487.10" x2="287.69" y2="483.39" stroke="#444" stroke-width="0.8"/>
<line x1="288.48" y1="487.10" x2="288.48" y2="484.32" stroke="#444" stroke-width="0.8"/>
<line x1="292.30" y1="487.10" x2="292.30" y2="484.78" stroke="#444" stroke-width="0.8"/>
<line x1="295.23" y1="487.10" x2="295.23" y2="484.78" stroke="#444" stroke-width="0.8"/>
<line x1="297.14" y1="487.10" x2="297.14" y2="485.71" stroke="#444" stroke-width="0.8"/>
<line x1="297.25" y1="487.10" x2="297.25" y2="485.71" stroke="#444" stroke-width="0.8"/>
<line x1="300.06" y1="487.10" x2="300.06" y2="485.71" stroke="#444" stroke-width="0.8"/>
<line x1="302.09" y1="487.10" x2="302.09" y2="485.25" stroke="#444" stroke-width="0.8"/>
<line x1="313.45" y1="487.10" x2="313.45" y2="477.83" stroke="#262626" stroke-width="1.0"/>
<line x1="315.81" y1="487.10" x2="315.81" y2="486.17" stroke="#444" stroke-width="0.8"/>
<line x1="318.74" y1="487.10" x2="318.74" y2="486.17" stroke="#444" stroke-width="0.8"/>
<line x1="331.56" y1="487.10" x2="331.56" y2="485.25" stroke="#444" stroke-width="0.8"/>
<line x1="333.93" y1="487.10" x2="333.93" y2="485.25" stroke="#444" stroke-width="0.8"/>
<line x1="335.95" y1="487.10" x2="335.95" y2="483.86" stroke="#444" stroke-width="0.8"/>
<line x1="337.41" y1="487.10" x2="337.41" y2="485.25" stroke="#444" stroke-width="0.8"/>
<line x1="339.44" y1="487.10" x2="339.44" y2="481.07" stroke="#444" stroke-width="0.8"/>
<path d="M365.60,487.1 V389.0 H511.85 V487.1" fill="none" stroke="#5e5e5e" stroke-width="1"/>
<line x1="365.60" y1="487.10" x2="511.85" y2="487.10" stroke="#555" stroke-width="1.2"/>
<line x1="362.80" y1="487.10" x2="365.60" y2="487.10" stroke="#5e5e5e" stroke-width="1"/>
<text x="361.80" y="489.80" font-size="7.8" text-anchor="end" stroke="#1a1a1a" stroke-width="0.15">0</text>
<line x1="362.80" y1="468.56" x2="365.60" y2="468.56" stroke="#5e5e5e" stroke-width="1"/>
<text x="361.80" y="471.26" font-size="7.8" text-anchor="end" stroke="#1a1a1a" stroke-width="0.15">20</text>
<line x1="362.80" y1="450.02" x2="365.60" y2="450.02" stroke="#5e5e5e" stroke-width="1"/>
<text x="361.80" y="452.72" font-size="7.8" text-anchor="end" stroke="#1a1a1a" stroke-width="0.15">40</text>
<line x1="362.80" y1="431.48" x2="365.60" y2="431.48" stroke="#5e5e5e" stroke-width="1"/>
<text x="361.80" y="434.18" font-size="7.8" text-anchor="end" stroke="#1a1a1a" stroke-width="0.15">60</text>
<line x1="362.80" y1="412.94" x2="365.60" y2="412.94" stroke="#5e5e5e" stroke-width="1"/>
<text x="361.80" y="415.64" font-size="7.8" text-anchor="end" stroke="#1a1a1a" stroke-width="0.15">80</text>
<line x1="362.80" y1="394.40" x2="365.60" y2="394.40" stroke="#5e5e5e" stroke-width="1"/>
<text x="361.80" y="397.10" font-size="7.8" text-anchor="end" stroke="#1a1a1a" stroke-width="0.15">100</text>
<line x1="376.85" y1="487.10" x2="376.85" y2="489.70" stroke="#5e5e5e" stroke-width="1"/>
<text x="377.85" y="498.90" font-size="7.8" text-anchor="middle" stroke="#1a1a1a" stroke-width="0.15">100</text>
<line x1="399.35" y1="487.10" x2="399.35" y2="489.70" stroke="#5e5e5e" stroke-width="1"/>
<text x="400.35" y="498.90" font-size="7.8" text-anchor="middle" stroke="#1a1a1a" stroke-width="0.15">120</text>
<line x1="421.85" y1="487.10" x2="421.85" y2="489.70" stroke="#5e5e5e" stroke-width="1"/>
<text x="422.85" y="498.90" font-size="7.8" text-anchor="middle" stroke="#1a1a1a" stroke-width="0.15">140</text>
<line x1="444.35" y1="487.10" x2="444.35" y2="489.70" stroke="#5e5e5e" stroke-width="1"/>
<text x="445.35" y="498.90" font-size="7.8" text-anchor="middle" stroke="#1a1a1a" stroke-width="0.15">160</text>
<line x1="466.85" y1="487.10" x2="466.85" y2="489.70" stroke="#5e5e5e" stroke-width="1"/>
<text x="467.85" y="498.90" font-size="7.8" text-anchor="middle" stroke="#1a1a1a" stroke-width="0.15">180</text>
<line x1="489.35" y1="487.10" x2="489.35" y2="489.70" stroke="#5e5e5e" stroke-width="1"/>
<text x="490.35" y="498.90" font-size="7.8" text-anchor="middle" stroke="#1a1a1a" stroke-width="0.15">200</text>
<line x1="511.85" y1="487.10" x2="511.85" y2="489.70" stroke="#5e5e5e" stroke-width="1"/>
<text x="512.85" y="498.90" font-size="7.8" text-anchor="middle" stroke="#1a1a1a" stroke-width="0.15">220</text>
<text x="442.50" y="508.10" font-size="7.8" text-anchor="middle" stroke="#1a1a1a" stroke-width="0.15">m/z</text>
<text x="351.60" y="437.50" font-size="7.9" text-anchor="middle" stroke="#1a1a1a" stroke-width="0.15" transform="rotate(-90 351.60 437.50)">% intensity</text>
<text x="371.90" y="400.10" font-size="7.7" fill="#c8353f" stroke="#c8353f" stroke-width="0.15">5-PAHSA MS^3</text>
<line x1="373.36" y1="487.10" x2="373.36" y2="480.15" stroke="#444" stroke-width="0.8"/>
<line x1="374.26" y1="487.10" x2="374.26" y2="484.32" stroke="#444" stroke-width="0.8"/>
<line x1="378.88" y1="487.10" x2="378.88" y2="475.98" stroke="#262626" stroke-width="1.0"/>
<line x1="393.16" y1="487.10" x2="393.16" y2="480.15" stroke="#444" stroke-width="0.8"/>
<line x1="400.81" y1="487.10" x2="400.81" y2="483.58" stroke="#444" stroke-width="0.8"/>
<line x1="413.41" y1="487.10" x2="413.41" y2="483.86" stroke="#444" stroke-width="0.8"/>
<line x1="424.55" y1="487.10" x2="424.55" y2="480.24" stroke="#444" stroke-width="0.8"/>
<line x1="426.80" y1="487.10" x2="426.80" y2="480.15" stroke="#444" stroke-width="0.8"/>
<line x1="427.70" y1="487.10" x2="427.70" y2="480.15" stroke="#444" stroke-width="0.8"/>
<line x1="428.49" y1="487.10" x2="428.49" y2="473.19" stroke="#262626" stroke-width="1.0"/>
<line x1="429.72" y1="487.10" x2="429.72" y2="480.15" stroke="#444" stroke-width="0.8"/>
<line x1="440.64" y1="487.10" x2="440.64" y2="483.67" stroke="#444" stroke-width="0.8"/>
<line x1="444.01" y1="487.10" x2="444.01" y2="483.67" stroke="#444" stroke-width="0.8"/>
<line x1="444.91" y1="487.10" x2="444.91" y2="483.67" stroke="#444" stroke-width="0.8"/>
<line x1="450.99" y1="487.10" x2="450.99" y2="483.67" stroke="#444" stroke-width="0.8"/>
<line x1="456.05" y1="487.10" x2="456.05" y2="480.24" stroke="#444" stroke-width="0.8"/>
<line x1="462.80" y1="487.10" x2="462.80" y2="483.67" stroke="#444" stroke-width="0.8"/>
<line x1="471.35" y1="487.10" x2="471.35" y2="483.67" stroke="#444" stroke-width="0.8"/>
<line x1="487.10" y1="487.10" x2="487.10" y2="480.24" stroke="#444" stroke-width="0.8"/>
<line x1="487.77" y1="487.10" x2="487.77" y2="483.39" stroke="#444" stroke-width="0.8"/>
<line x1="490.02" y1="487.10" x2="490.02" y2="483.67" stroke="#444" stroke-width="0.8"/>
<line x1="494.86" y1="487.10" x2="494.86" y2="483.67" stroke="#444" stroke-width="0.8"/>
<line x1="497.34" y1="487.10" x2="497.34" y2="483.39" stroke="#444" stroke-width="0.8"/>
<line x1="498.80" y1="487.10" x2="498.80" y2="480.24" stroke="#444" stroke-width="0.8"/>
<line x1="500.49" y1="487.10" x2="500.49" y2="465.78" stroke="#262626" stroke-width="1.0"/>
<line x1="501.50" y1="487.10" x2="501.50" y2="480.24" stroke="#444" stroke-width="0.8"/>
<line x1="502.85" y1="487.10" x2="502.85" y2="394.40" stroke="#262626" stroke-width="1.0"/>
<line x1="506.45" y1="487.10" x2="506.45" y2="475.98" stroke="#262626" stroke-width="1.0"/>
<line x1="510.16" y1="487.10" x2="510.16" y2="480.24" stroke="#444" stroke-width="0.8"/>
<line x1="510.95" y1="487.10" x2="510.95" y2="483.67" stroke="#444" stroke-width="0.8"/>
<text x="48.00" y="432.90" font-size="7.4" fill="#7a4488" stroke="#7a4488" stroke-width="0.15" transform="rotate(-90 48.00 432.90)">113.1</text>
<text x="64.40" y="438.80" font-size="7.4" fill="#4585bd" stroke="#4585bd" stroke-width="0.15" transform="rotate(-90 64.40 438.80)">127.1</text>
<text x="107.00" y="412.20" font-size="7.4" fill="#7a4488" stroke="#7a4488" stroke-width="0.15" transform="rotate(-90 107.00 412.20)">169.2</text>
<text x="104.20" y="449.60" font-size="7.4" fill="#4585bd" stroke="#4585bd" stroke-width="0.15" transform="rotate(-90 104.20 449.60)">167.2</text>
<text x="127.30" y="456.60" font-size="7.4" fill="#4585bd" stroke="#4585bd" stroke-width="0.15" transform="rotate(-90 127.30 456.60)">183.2</text>
<text x="140.40" y="477.70" font-size="7.4" fill="#4585bd" stroke="#4585bd" stroke-width="0.15" transform="rotate(-90 140.40 477.70)">195.15</text>
<text x="156.10" y="472.80" font-size="7.4" fill="#4585bd" stroke="#4585bd" stroke-width="0.15" transform="rotate(-90 156.10 472.80)">211.2</text>
<text x="163.50" y="469.80" font-size="7.4" fill="#4585bd" stroke="#4585bd" stroke-width="0.15" transform="rotate(-90 163.50 469.80)">213.2</text>
<text x="234.60" y="426.50" font-size="7.4" fill="#7a4488" stroke="#7a4488" stroke-width="0.15" transform="rotate(-90 234.60 426.50)">127.1</text>
<text x="231.70" y="466.70" font-size="7.4" fill="#4585bd" stroke="#4585bd" stroke-width="0.15" transform="rotate(-90 231.70 466.70)">125.1</text>
<text x="254.10" y="444.80" font-size="7.4" fill="#4585bd" stroke="#4585bd" stroke-width="0.15" transform="rotate(-90 254.10 444.80)">141.15</text>
<text x="266.70" y="415.20" font-size="7.4" fill="#7a4488" stroke="#7a4488" stroke-width="0.15" transform="rotate(-90 266.70 415.20)">155.1</text>
<text x="265.40" y="455.70" font-size="7.4" fill="#4585bd" stroke="#4585bd" stroke-width="0.15" transform="rotate(-90 265.40 455.70)">153.2</text>
<text x="286.50" y="419.10" font-size="7.4" fill="#4585bd" stroke="#4585bd" stroke-width="0.15" transform="rotate(-90 286.50 419.10)">169.2</text>
<text x="315.90" y="475.50" font-size="7.4" fill="#4585bd" stroke="#4585bd" stroke-width="0.15" transform="rotate(-90 315.90 475.50)">195.2</text>
<text x="428.50" y="471.00" font-size="7.4" fill="#4585bd" stroke="#4585bd" stroke-width="0.15" transform="rotate(-90 428.50 471.00)">145.1</text>
<text x="500.00" y="413.00" font-size="7.4" fill="#4a3d5c" stroke="#4a3d5c" stroke-width="0.15" transform="rotate(-90 500.00 413.00)">211.2</text>
<text x="496.90" y="466.70" font-size="7.4" fill="#4585bd" stroke="#4585bd" stroke-width="0.15" transform="rotate(-90 496.90 466.70)">209.1</text>
<text x="487.60" y="477.00" font-size="7.4" fill="#4585bd" stroke="#4585bd" stroke-width="0.15" transform="rotate(-90 487.60 477.00)">197.2</text>
</svg>
</body></html>
